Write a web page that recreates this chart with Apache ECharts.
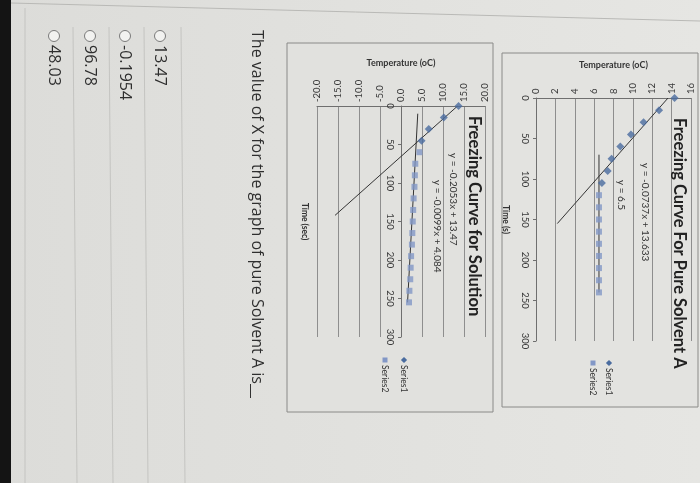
<!DOCTYPE html>
<html><head><meta charset="utf-8">
<script src="https://cdn.jsdelivr.net/npm/echarts@6/dist/echarts.min.js"></script>
<style>html,body{margin:0;padding:0;background:#dfdfdc;} #c{width:700px;height:483px;}</style>
</head><body><div id="c"></div>
<script>
// ---- Chart 1: Freezing Curve For Pure Solvent A ----
const solventS1Time = [0, 15, 30, 45, 60, 75, 90, 105];
const solventS1Temp = [14.3, 12.7, 11.1, 9.8, 8.7, 7.8, 7.4, 6.8];
const solventS2Time = [120, 135, 150, 165, 180, 195, 210, 225, 240];
const solventS2Temp = [6.5, 6.5, 6.5, 6.5, 6.5, 6.5, 6.5, 6.5, 6.5];
const solventTrend1Time = [0, 155];
const solventTrend1Temp = [13.63, 2.2];
const solventTrend2Time = [70, 240];
const solventTrend2Temp = [6.5, 6.5];
const solventTempTicks = [0, 2, 4, 6, 8, 10, 12, 14, 16];
// ---- Chart 2: Freezing Curve for Solution ----
const solutionS1Time = [0, 15, 30, 45];
const solutionS1Temp = [13.7, 10.2, 6.6, 4.9];
const solutionS2Time = [60, 75, 90, 105, 120, 135, 150, 165, 180, 195, 210, 225, 240, 255];
const solutionS2Temp = [4.4, 3.4, 3.3, 3.2, 3.0, 2.9, 2.8, 2.7, 2.6, 2.4, 2.3, 2.2, 2.0, 1.9];
const solutionTrend1Time = [0, 142];
const solutionTrend1Temp = [13.47, -15.7];
const solutionTrend2Time = [10, 255];
const solutionTrend2Temp = [3.99, 1.56];
const solutionTempTicks = [-20, -15, -10, -5, 0, 5, 10, 15, 20];
const timeTicks = [0, 50, 100, 150, 200, 250, 300];
// ---- Question ----
const questionText = 'The value of X for the graph of pure Solvent A is__';
const answerOptions = ['13.47', '-0.1954', '96.78', '48.03'];
const titles = ['Freezing Curve For Pure Solvent A', 'Freezing Curve for Solution'];
const equations = ['y = -0.0737x + 13.633', 'y = 6.5', 'y = -0.2053x + 13.47', 'y = -0.0099x + 4.084'];
const legendNames = ['Series1', 'Series2'];

const pairs = (t, v) => t.map((x, i) => [v[i], x]);
const chart = echarts.init(document.getElementById('c'));
const F = 'Lato, "Open Sans", sans-serif';
const R = -Math.PI / 2;
const c1 = '#4a6c9f', c2 = '#8297c6', lineC = '#333';

function xAx(grid, ticks, fmt, gap) {
  return {
    gridIndex: grid, type: 'value', position: 'top',
    min: ticks[0], max: ticks[ticks.length - 1], interval: ticks[1] - ticks[0],
    axisLine: { show: true, onZero: false, lineStyle: { color: '#6f6f6f' } },
    axisTick: { show: false },
    axisLabel: { rotate: -90, fontSize: 9.5, color: '#3a3a3a', fontFamily: F, margin: 4, formatter: fmt },
    splitLine: { show: true, lineStyle: { color: '#8e8e8e', width: 1 } },
    name: 'Temperature (oC)', nameLocation: 'middle', nameGap: gap,
    nameTextStyle: { fontSize: 9, fontWeight: 'bold', color: '#333', fontFamily: F }
  };
}
function yAx(grid, name, gap, offset) {
  return {
    gridIndex: grid, type: 'value', inverse: true, offset: offset,
    min: timeTicks[0], max: timeTicks[timeTicks.length - 1], interval: timeTicks[1] - timeTicks[0],
    axisLine: { show: true, onZero: false, lineStyle: { color: '#6f6f6f' } },
    axisTick: { show: true, length: 3, lineStyle: { color: '#6f6f6f' } },
    axisLabel: { rotate: -90, fontSize: 9.5, color: '#3a3a3a', fontFamily: F, margin: 6 },
    splitLine: { show: false },
    name: name, nameLocation: 'middle', nameGap: gap, nameRotate: -90,
    nameTextStyle: { fontSize: 8.5, fontWeight: 'bold', color: '#333', fontFamily: F }
  };
}
function rtext(x, y, text, size, weight, color, family) {
  return { type: 'text', x: x, y: y, rotation: R, z: 10,
    style: { text: text, font: (weight || 'normal') + ' ' + size + 'px ' + (family || F), fill: color || '#333', align: 'left', verticalAlign: 'middle' } };
}
const g = [];
g.push({ type: 'rect', shape: { x: 0, y: 0, width: 700, height: 483 }, style: { fill: new echarts.graphic.LinearGradient(0, 0, 1, 0, [{ offset: 0, color: '#dcdcd9' }, { offset: 1, color: '#e6e6e3' }]) }, z: -10 });
g.push({ type: 'rect', shape: { x: 0, y: 0, width: 11, height: 483 }, style: { fill: '#141414' }, z: -5 });
g.push({ type: 'line', shape: { x1: 11, y1: 3, x2: 700, y2: 21 }, style: { stroke: '#b9b9b6', lineWidth: 1 }, z: -5 });
g.push({ type: 'line', shape: { x1: 25, y1: 8, x2: 25, y2: 483 }, style: { stroke: '#c4c4c1', lineWidth: 1 }, z: -5 });
[181, 144, 109, 73].forEach(x => g.push({ type: 'line', shape: { x1: x, y1: 27, x2: x + 4, y2: 483 }, style: { stroke: '#c4c4c1', lineWidth: 1 }, z: -5 }));
// chart boxes
g.push({ type: 'rect', shape: { x: 502, y: 53, width: 196, height: 354 }, style: { fill: '#e3e3e0', stroke: '#8a8a88', lineWidth: 1 }, z: -4 });
g.push({ type: 'rect', shape: { x: 287, y: 43, width: 206, height: 369 }, style: { fill: '#e1e1de', stroke: '#8a8a88', lineWidth: 1 }, z: -4 });
// titles
g.push(rtext(679, 118, titles[0], 16.5, 'bold', '#222'));
g.push(rtext(474, 116, titles[1], 16.5, 'bold', '#222'));
// equations
g.push(rtext(645, 163, equations[0], 10, 'normal', '#333'));
g.push(rtext(621, 180, equations[1], 10, 'normal', '#333'));
g.push(rtext(453, 153, equations[2], 10, 'normal', '#333'));
g.push(rtext(437, 180, equations[3], 10, 'normal', '#333'));
// legends
[[609, 593, 363], [404, 385, 360]].forEach(p => {
  g.push({ type: 'rect', shape: { x: -2.2, y: -2.2, width: 4.4, height: 4.4 }, x: p[0], y: p[2], rotation: Math.PI / 4, style: { fill: c1 }, z: 10 });
  g.push(rtext(p[0], p[2] + 5, legendNames[0], 8.5, 'normal', '#333'));
  g.push({ type: 'rect', shape: { x: p[1] - 2.5, y: p[2] - 2.5, width: 5, height: 5 }, style: { fill: c2 }, z: 10 });
  g.push(rtext(p[1], p[2] + 5, legendNames[1], 8.5, 'normal', '#333'));
});
// question
g.push(rtext(257, 30, questionText, 16, 'normal', '#2e2e2e', '"Open Sans", sans-serif'));
[160, 125, 90, 54].forEach((x, i) => {
  g.push({ type: 'circle', shape: { cx: x, cy: 36, r: 5.5 }, style: { fill: '#f2f2f0', stroke: '#7a7a7a', lineWidth: 1 }, z: 10 });
  g.push(rtext(x, 45, answerOptions[i], 16, 'normal', '#2e2e2e', '"Open Sans", sans-serif'));
});

const trend = (xi, yi, t, v) => ({ type: 'line', xAxisIndex: xi, yAxisIndex: yi, data: pairs(t, v), symbol: 'none', lineStyle: { color: lineC, width: 1 }, z: 3, silent: true });
chart.setOption({
  animation: false,
  grid: [
    { left: 536, top: 98, width: 155, height: 243, containLabel: false },
    { left: 317, top: 106, width: 168, height: 231, containLabel: false }
  ],
  xAxis: [xAx(0, solventTempTicks, v => String(v), 28), xAx(1, solutionTempTicks, v => v.toFixed(1), 38)],
  yAxis: [yAx(0, 'Time (s)', 26, 0), yAx(1, 'Time (sec)', 92, -84)],
  graphic: { elements: g },
  series: [
    { type: 'scatter', xAxisIndex: 0, yAxisIndex: 0, data: pairs(solventS1Time, solventS1Temp), symbol: 'diamond', symbolSize: 8, itemStyle: { color: c1 }, z: 4 },
    { type: 'scatter', xAxisIndex: 0, yAxisIndex: 0, data: pairs(solventS2Time, solventS2Temp), symbol: 'rect', symbolSize: 6, itemStyle: { color: c2 }, z: 4 },
    trend(0, 0, solventTrend1Time, solventTrend1Temp),
    trend(0, 0, solventTrend2Time, solventTrend2Temp),
    { type: 'scatter', xAxisIndex: 1, yAxisIndex: 1, data: pairs(solutionS1Time, solutionS1Temp), symbol: 'diamond', symbolSize: 8, itemStyle: { color: c1 }, z: 4 },
    { type: 'scatter', xAxisIndex: 1, yAxisIndex: 1, data: pairs(solutionS2Time, solutionS2Temp), symbol: 'rect', symbolSize: 6, itemStyle: { color: c2 }, z: 4 },
    trend(1, 1, solutionTrend1Time, solutionTrend1Temp),
    trend(1, 1, solutionTrend2Time, solutionTrend2Temp)
  ]
});
</script></body></html>
